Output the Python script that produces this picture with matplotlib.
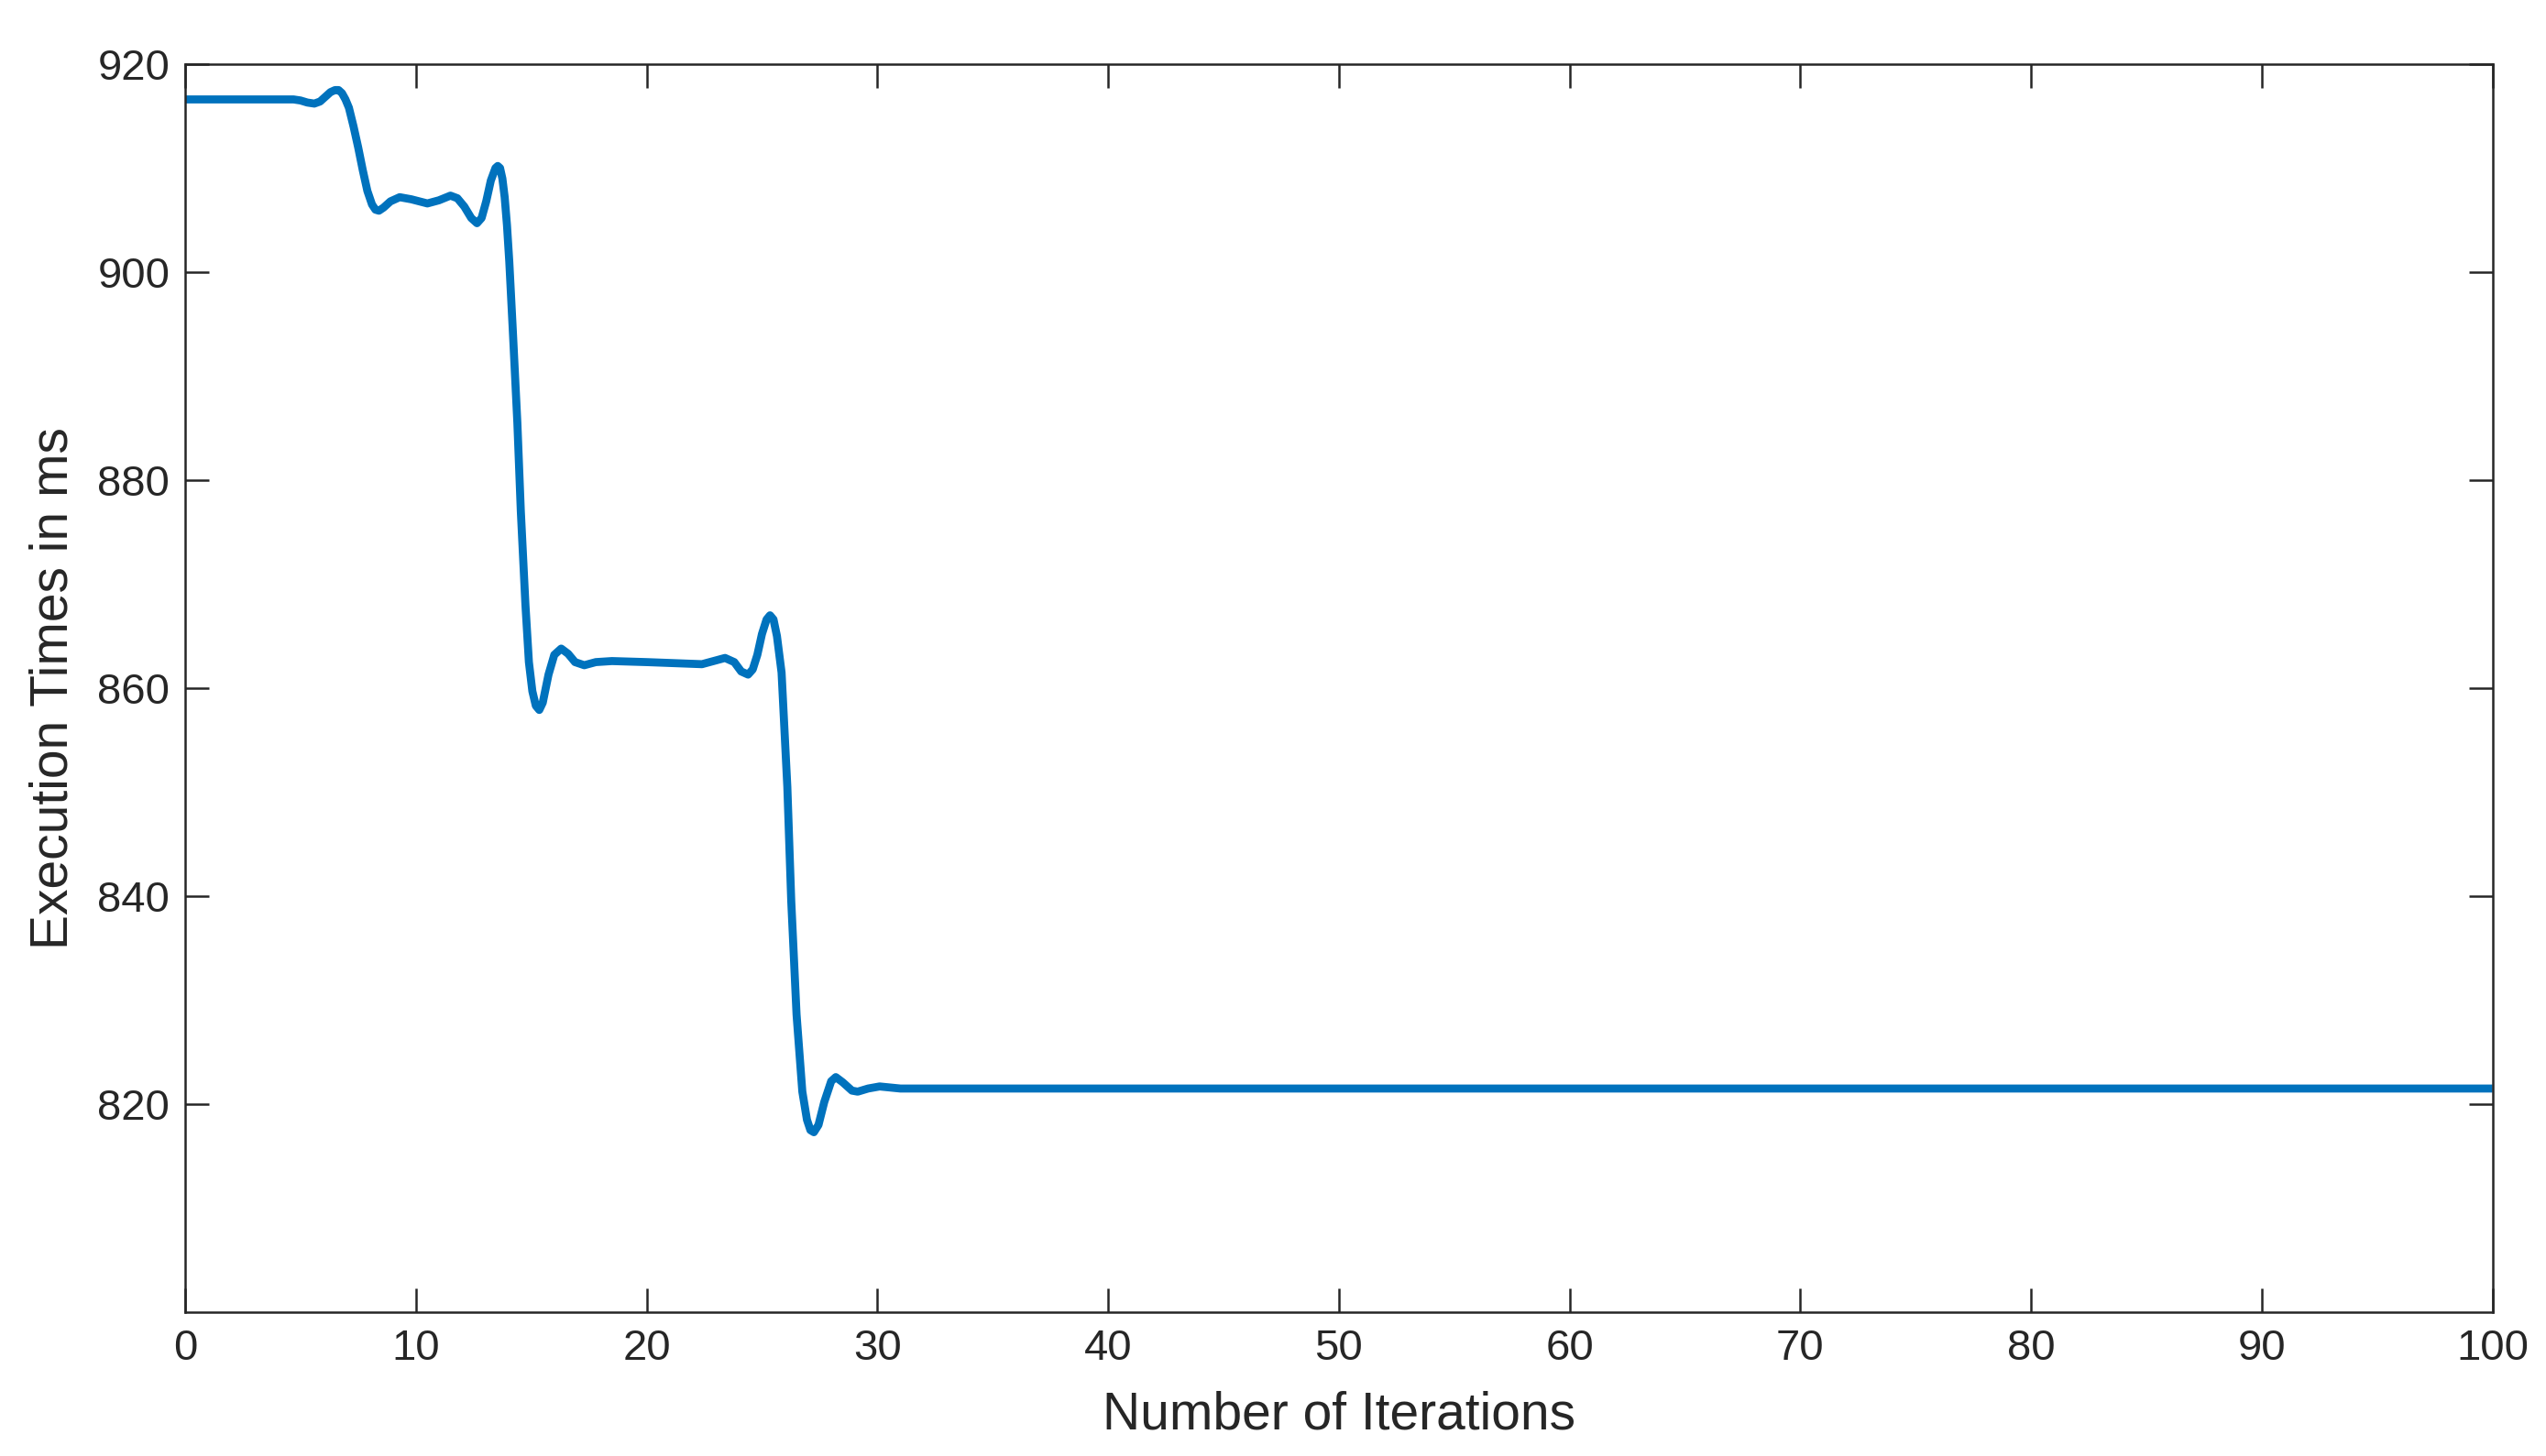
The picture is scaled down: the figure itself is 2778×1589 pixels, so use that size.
import numpy as np
import matplotlib.pyplot as plt

# execution time per iteration
iterations = [0, 2, 4, 4.7, 5.0, 5.3, 5.6, 5.85, 6.1, 6.3, 6.5, 6.65, 6.8, 6.95,
              7.1, 7.3, 7.5, 7.7, 7.9, 8.1, 8.25, 8.4, 8.6, 8.9, 9.3, 9.8, 10.5,
              11.0, 11.5, 11.8, 12.1, 12.4, 12.65, 12.85, 13.05, 13.25, 13.45,
              13.55, 13.65, 13.75, 13.85, 13.95, 14.05, 14.2, 14.4, 14.55, 14.75,
              14.9, 15.05, 15.2, 15.35, 15.5, 15.75, 16.0, 16.3, 16.6, 16.9, 17.3,
              17.8, 18.5, 20, 22.4, 22.9, 23.4, 23.8, 24.1, 24.4, 24.6, 24.8, 25.0,
              25.2, 25.35, 25.5, 25.65, 25.85, 26.1, 26.27, 26.5, 26.75, 26.95,
              27.1, 27.25, 27.45, 27.7, 28.0, 28.2, 28.5, 28.9, 29.15, 29.6, 30.1,
              31, 100]
exec_times = [916.6, 916.6, 916.6, 916.6, 916.5, 916.3, 916.2, 916.4, 916.9, 917.3,
              917.5, 917.5, 917.2, 916.6, 915.8, 914.0, 912.0, 909.8, 907.8, 906.5,
              906.0, 905.9, 906.2, 906.8, 907.2, 907.0, 906.6, 906.9, 907.35, 907.1,
              906.3, 905.2, 904.7, 905.2, 906.8, 908.8, 910.0, 910.2, 910.0, 909.0,
              907.2, 904.5, 901.0, 894.5, 885.5, 877.0, 868.0, 862.5, 859.7, 858.3,
              857.9, 858.6, 861.3, 863.2, 863.8, 863.3, 862.5, 862.2, 862.5, 862.6,
              862.5, 862.3, 862.6, 862.9, 862.5, 861.6, 861.3, 861.8, 863.2, 865.2,
              866.6, 867.0, 866.6, 865.0, 861.5, 850.5, 839.5, 828.6, 821.2, 818.5,
              817.5, 817.3, 818.0, 820.2, 822.2, 822.6, 822.1, 821.3, 821.2, 821.5,
              821.7, 821.5, 821.5]

x_ticks = [0, 10, 20, 30, 40, 50, 60, 70, 80, 90, 100]
y_ticks = [820, 840, 860, 880, 900, 920]

plt.rcParams['font.family'] = ['Liberation Sans', 'DejaVu Sans']
axis_color = '#262626'

fig = plt.figure(figsize=(27.78, 15.89), dpi=100)
ax = fig.add_axes([0.0727, 0.0988, 0.9063, 0.8572])

ax.plot(iterations, exec_times, color='#0072BD', linewidth=6.3,
        solid_joinstyle='round', solid_capstyle='butt')

ax.set_xlim(0, 100)
ax.set_ylim(800, 920)
ax.set_xticks(x_ticks)
ax.set_yticks(y_ticks)

ax.tick_params(direction='in', length=18.5, width=1.8, colors=axis_color,
               labelsize=34, top=True, right=True, labelcolor=axis_color)
ax.tick_params(axis='x', pad=13)
ax.tick_params(axis='y', pad=12)
for sp in ax.spines.values():
    sp.set_linewidth(1.8)
    sp.set_color(axis_color)

ax.set_xlabel('Number of Iterations', fontsize=41, color=axis_color, labelpad=17)
ax.set_ylabel('Execution Times in ms', fontsize=41, color=axis_color, labelpad=15)

fig.savefig('out.png', dpi=100)
